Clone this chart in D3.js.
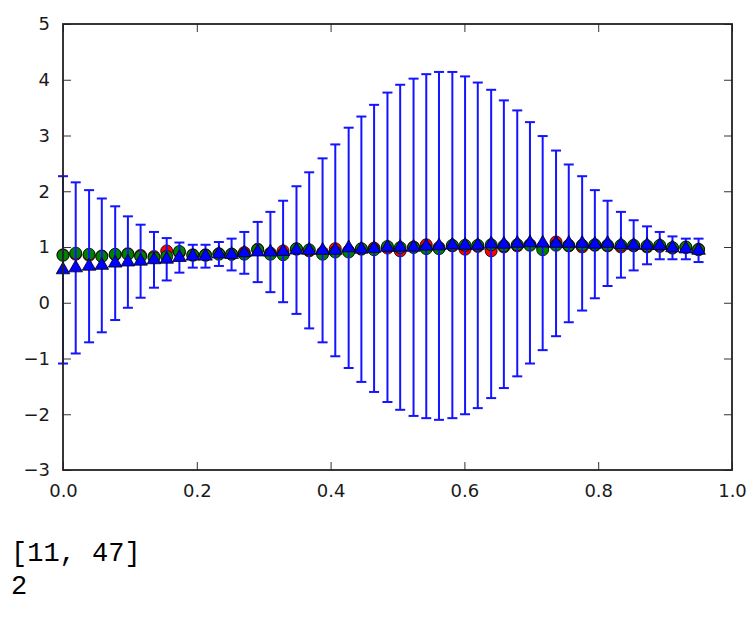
<!DOCTYPE html>
<html>
<head>
<meta charset="utf-8">
<script src="https://cdn.jsdelivr.net/npm/d3@7"></script>
<style>
  body { margin: 0; background: #fff; }
  svg { display: block; }
</style>
</head>
<body>
<div id="chart"></div>
<script>
// Error bar chart: three noisy series, the blue one carries the error bars.
// Output lines of the notebook cell are printed underneath.

//// DATA ///////////////////////////////////////////////////////////////////////

var xs = [0.000, 0.019, 0.039, 0.058, 0.078, 0.097, 0.116, 0.136, 0.155, 0.174,
          0.194, 0.213, 0.233, 0.252, 0.271, 0.291, 0.310, 0.329, 0.349, 0.368,
          0.388, 0.407, 0.427, 0.446, 0.465, 0.485, 0.504, 0.524, 0.543, 0.562,
          0.582, 0.601, 0.620, 0.640, 0.659, 0.679, 0.698, 0.717, 0.737, 0.756,
          0.776, 0.795, 0.814, 0.834, 0.853, 0.873, 0.892, 0.911, 0.931, 0.950];

var red_y = [0.86, 0.87, 0.85, 0.84, 0.86, 0.88, 0.85, 0.83, 0.93, 0.90,
             0.86, 0.86, 0.88, 0.87, 0.90, 0.96, 0.89, 0.93, 0.96, 0.93,
             0.90, 0.97, 0.93, 0.96, 0.98, 0.98, 0.93, 1.00, 1.04, 0.99,
             1.02, 0.96, 1.01, 0.93, 1.00, 1.02, 1.04, 1.00, 1.09, 1.02,
             1.00, 1.03, 1.02, 1.00, 1.02, 1.00, 1.01, 0.98, 0.99, 0.96];

var green_y = [0.85, 0.89, 0.87, 0.83, 0.87, 0.87, 0.83, 0.81, 0.83, 0.92,
               0.85, 0.85, 0.87, 0.87, 0.87, 0.95, 0.87, 0.86, 0.97, 0.95,
               0.87, 0.91, 0.91, 0.97, 0.95, 1.01, 0.99, 0.99, 0.97, 0.97,
               1.03, 1.03, 1.03, 1.04, 1.02, 1.04, 1.03, 0.95, 1.03, 1.03,
               1.03, 1.04, 1.03, 1.03, 1.03, 1.02, 1.03, 0.99, 1.00, 0.95];

var blue_y = [0.59, 0.625, 0.655, 0.67, 0.71, 0.73, 0.745, 0.77, 0.78, 0.81,
              0.835, 0.835, 0.875, 0.865, 0.895, 0.91, 0.91, 0.92, 0.945, 0.94,
              0.94, 0.94, 0.985, 0.96, 0.975, 0.995, 0.995, 0.995, 1.015, 1.02,
              1.035, 1.03, 1.03, 1.055, 1.05, 1.065, 1.075, 1.07, 1.065, 1.065,
              1.065, 1.05, 1.065, 1.04, 1.03, 1.03, 1.025, 0.985, 0.965, 0.94];

var blue_err = [1.68, 1.535, 1.365, 1.20, 1.02, 0.82, 0.655, 0.50, 0.38, 0.27,
                0.205, 0.205, 0.215, 0.285, 0.375, 0.54, 0.72, 0.91, 1.145, 1.40,
                1.65, 1.90, 2.155, 2.38, 2.575, 2.775, 2.915, 3.025, 3.085, 3.12,
                3.105, 3.03, 2.92, 2.765, 2.58, 2.385, 2.165, 1.92, 1.665, 1.415,
                1.205, 0.97, 0.765, 0.59, 0.45, 0.34, 0.245, 0.205, 0.185, 0.21];

var x_ticks = [0.0, 0.2, 0.4, 0.6, 0.8, 1.0];
var y_ticks = [-3, -2, -1, 0, 1, 2, 3, 4, 5];

var output_lines = ["[11, 47]", "2"];


//// SETTINGS ///////////////////////////////////////////////////////////////////

var width = 756, height = 630;
var margin = { left: 63, right: 24, top: 24, bottom: 160 };

var x = d3.scaleLinear().domain([0, 1]).range([margin.left, width - margin.right]);
var y = d3.scaleLinear().domain([-3, 5]).range([height - margin.bottom, margin.top]);

var tick_font = "'DejaVu Sans', sans-serif";
var cap_half = 5;


//// UI SETUP ///////////////////////////////////////////////////////////////////

var svg = d3.select("#chart").append("svg")
	.attr("width", width)
	.attr("height", height);

var points = xs.map(function(v, i) {
	return { x: v, r: red_y[i], g: green_y[i], b: blue_y[i], e: blue_err[i] };
});

// red circles, mostly hidden behind the green ones
svg.append("g").selectAll("circle")
	.data(points).enter().append("circle")
		.attr("cx", function(d) { return x(d.x); })
		.attr("cy", function(d) { return y(d.r); })
		.attr("r", 6)
		.attr("fill", "#ff0000")
		.attr("stroke", "#000")
		.attr("stroke-width", 0.8);

svg.append("g").selectAll("circle")
	.data(points).enter().append("circle")
		.attr("cx", function(d) { return x(d.x); })
		.attr("cy", function(d) { return y(d.g); })
		.attr("r", 6)
		.attr("fill", "#008000")
		.attr("stroke", "#000")
		.attr("stroke-width", 0.8);

// error bars
var bars = svg.append("g")
	.attr("stroke", "#1414ff")
	.attr("stroke-width", 2);

bars.selectAll("line.stem")
	.data(points).enter().append("line")
		.attr("class", "stem")
		.attr("x1", function(d) { return x(d.x); })
		.attr("x2", function(d) { return x(d.x); })
		.attr("y1", function(d) { return y(d.b - d.e); })
		.attr("y2", function(d) { return y(d.b + d.e); });

bars.selectAll("line.captop")
	.data(points).enter().append("line")
		.attr("class", "captop")
		.attr("x1", function(d) { return x(d.x) - cap_half; })
		.attr("x2", function(d) { return x(d.x) + cap_half; })
		.attr("y1", function(d) { return y(d.b + d.e); })
		.attr("y2", function(d) { return y(d.b + d.e); });

bars.selectAll("line.capbot")
	.data(points).enter().append("line")
		.attr("class", "capbot")
		.attr("x1", function(d) { return x(d.x) - cap_half; })
		.attr("x2", function(d) { return x(d.x) + cap_half; })
		.attr("y1", function(d) { return y(d.b - d.e); })
		.attr("y2", function(d) { return y(d.b - d.e); });

// blue triangles on top
var tri = d3.symbol().type(d3.symbolTriangle).size(80);

svg.append("g").selectAll("path")
	.data(points).enter().append("path")
		.attr("d", tri)
		.attr("transform", function(d) { return "translate(" + x(d.x) + "," + y(d.b) + ")"; })
		.attr("fill", "#0000ff")
		.attr("stroke", "#000")
		.attr("stroke-width", 0.8);

// axes: ticks point inwards on all four sides
var x_bottom = d3.axisBottom(x).tickValues(x_ticks).tickSizeInner(-8).tickSizeOuter(0)
	.tickPadding(14).tickFormat(d3.format(".1f"));
var x_top = d3.axisTop(x).tickValues(x_ticks).tickSizeInner(-8).tickSizeOuter(0).tickFormat("");
var y_left = d3.axisLeft(y).tickValues(y_ticks).tickSizeInner(-8).tickSizeOuter(0)
	.tickPadding(13).tickFormat(function(d) { return d < 0 ? "\u2212" + Math.abs(d) : d; });
var y_right = d3.axisRight(y).tickValues(y_ticks).tickSizeInner(-8).tickSizeOuter(0).tickFormat("");

function styleAxis(g) {
	g.select(".domain").remove();
	g.selectAll(".tick line").attr("stroke", "#333").attr("stroke-width", 1);
	g.selectAll(".tick text")
		.attr("fill", "#1a1a1a")
		.style("font-family", tick_font)
		.style("font-size", "18px");
}

svg.append("g").attr("transform", "translate(0," + y(-3) + ")").call(x_bottom).call(styleAxis);
svg.append("g").attr("transform", "translate(0," + y(5) + ")").call(x_top).call(styleAxis);
svg.append("g").attr("transform", "translate(" + x(0) + ",0)").call(y_left).call(styleAxis);
svg.append("g").attr("transform", "translate(" + x(1) + ",0)").call(y_right).call(styleAxis);

svg.append("rect")
	.attr("x", x(0))
	.attr("y", y(5))
	.attr("width", x(1) - x(0))
	.attr("height", y(-3) - y(5))
	.attr("fill", "none")
	.attr("stroke", "#222")
	.attr("stroke-width", 1.8);

// printed output below the figure
svg.append("g").selectAll("text")
	.data(output_lines).enter().append("text")
		.attr("x", 11)
		.attr("y", function(d, i) { return 561 + i * 33; })
		.style("font-family", "'Liberation Mono', 'DejaVu Sans Mono', monospace")
		.style("font-size", "27px")
		.attr("fill", "#000")
		.text(function(d) { return d; });
</script>
</body>
</html>
